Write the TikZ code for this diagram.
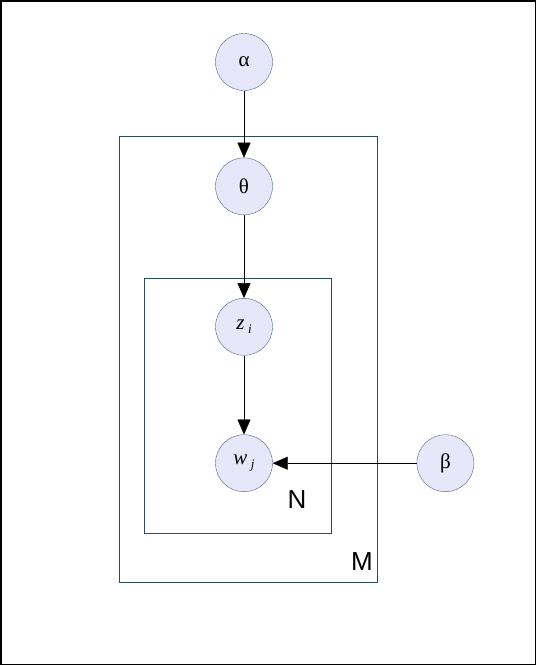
\documentclass[tikz,border=0pt]{standalone}
\usepackage{fontspec}
\setmainfont{Liberation Serif}
\newfontfamily\platefont{Liberation Sans}
\usetikzlibrary{positioning}
\usetikzlibrary{arrows.meta}

\begin{document}
\begin{tikzpicture}[x=1pt,y=-1pt]

\definecolor{nodefill}{RGB}{230,232,250}
\definecolor{nodeline}{RGB}{80,100,140}
\definecolor{plateline}{RGB}{45,75,95}

\def\NodeSize{57pt}
\def\Sub#1{\raisebox{-4pt}{\fontsize{13}{13}\selectfont\itshape #1}}

% Styles
\tikzstyle{randvar} =
	[circle, draw=nodeline, fill=nodefill, minimum size=\NodeSize, inner sep=0pt,
	 font=\fontsize{21}{21}\selectfont]

\tikzstyle{plate} =
	[draw=plateline, inner sep=0pt]

\tikzstyle{plate label} =
	[font=\platefont\fontsize{26}{26}\selectfont]

\tikzstyle{dependency} =
	[-{Triangle[length=15pt,width=13pt]}, thin]

\useasboundingbox (0,0) rectangle (536,665);
\draw[line width=1.5pt] (0.75,0.75) rectangle (535.25,664.25);

% Plates
\node (PlateM) at (248,359)
	[plate, minimum width=258pt, minimum height=446pt] {};
\node (PlateN) at (237.5,405.5)
	[plate, minimum width=187pt, minimum height=255pt] {};

\node (LabelN) at (297,500) [plate label] {N};
\node (LabelM) at (362,562) [plate label] {M};

% Variables
\node (alpha) at (244,62) [randvar] {α};
\node (theta) [randvar, below=67pt of alpha] {θ};
\node (topic) [randvar, below=83pt of theta] {\textit{z}\,\Sub{i}};
\node (word) [randvar, below=79pt of topic] {\textit{w}\,\Sub{j}};
\node (beta) [randvar, right=144pt of word] {β};

% Edges
\draw[dependency] (alpha) -- (theta);
\draw[dependency] (theta) -- (topic);
\draw[dependency] (topic) -- (word);
\draw[dependency] (beta) -- (word);

\end{tikzpicture}
\end{document}
